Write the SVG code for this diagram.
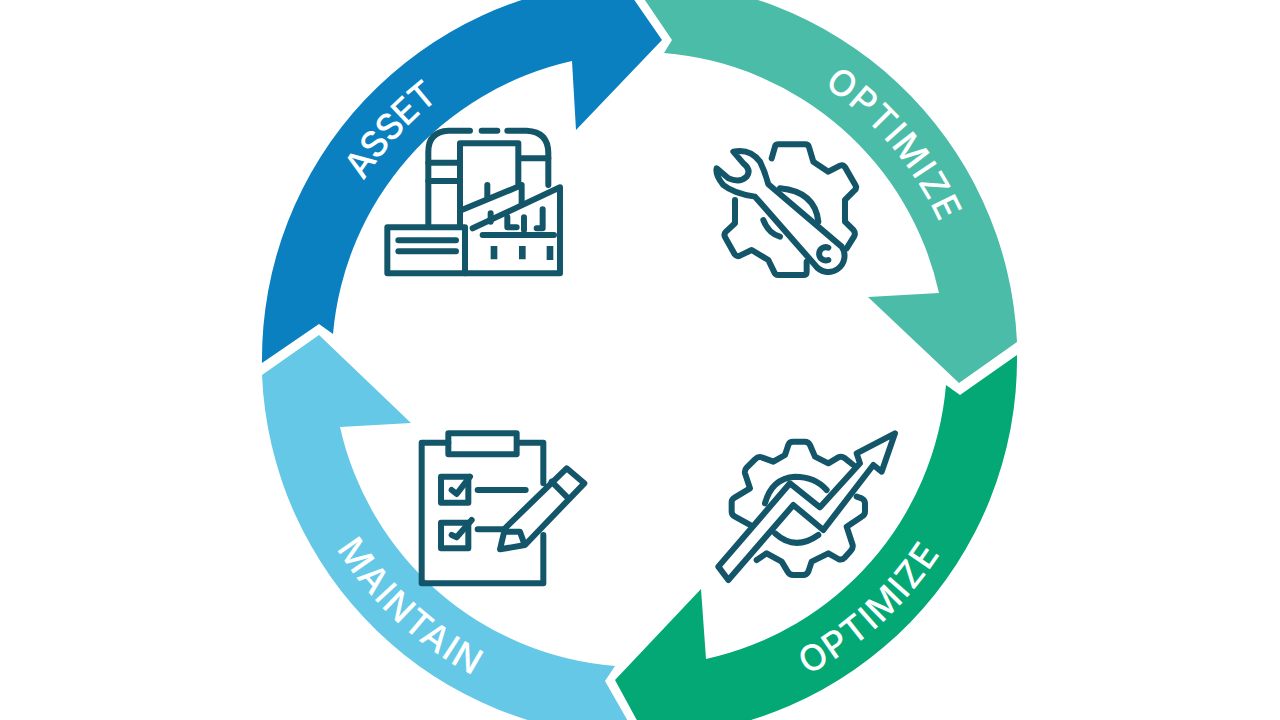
<svg xmlns="http://www.w3.org/2000/svg" width="1280" height="720" viewBox="0 0 1280 720">
<style>
.lab{font-family:Inter,"Liberation Sans",sans-serif;font-weight:500;font-size:36px;letter-spacing:1.500px;fill:#fff;text-anchor:middle}
.ic{fill:none;stroke:#13566a;stroke-width:18;stroke-linejoin:round;stroke-linecap:round}
</style>
<defs>
<path id="topArc" d="M311 359A329 329 0 0 1 969 359"/>
<path id="botArc" d="M282 359A358 358 0 0 0 998 359"/>
</defs>
<rect width="1280" height="720" fill="#fff"/>
<g id="connectors">
<path id="arrow-asset" fill="#0a80c1" d="M262 363A378 378 0 0 1 621.500 -18.500L662 40L576 130L572 61A307 307 0 0 0 333 334L319 324Z"/>
<path id="arrow-optimize-1" fill="#4bbca8" d="M632 -19A378 378 0 0 1 1017 342L959 383L868 297L939 293A307 307 0 0 0 664 53L672 40Z"/>
<path id="arrow-optimize-2" fill="#03a875" d="M1017 355A378 378 0 0 1 646 737L615 680L701 589L706 659A307 307 0 0 0 946 385L960 395Z"/>
<path id="arrow-maintain" fill="#64c8e6" d="M262 375L319 335L411 423L340 427A307 307 0 0 0 615 666L605 681L637 737A378 378 0 0 1 262 375Z"/>
</g>
<g id="label-asset"><text class="lab" style="letter-spacing:-1px" transform="rotate(-47.500 640 359)"><textPath href="#topArc" startOffset="50%">ASSET</textPath></text></g>
<g id="label-optimize-1"><text class="lab" transform="rotate(49.800 640 359)"><textPath href="#topArc" startOffset="50%">OPTIMIZE</textPath></text></g>
<g id="label-optimize-2"><text class="lab" transform="rotate(-42.600 640 359)"><textPath href="#botArc" startOffset="50%">OPTIMIZE</textPath></text></g>
<g id="label-maintain"><text class="lab" transform="rotate(42.800 640 359)"><textPath href="#botArc" startOffset="50%">MAINTAIN</textPath></text></g>
<g id="icon-asset" class="ic" transform="translate(370 110) scale(.3333)">
<path d="M52 352H285V490H52Z"/><path d="M285 490H570V232L308 355"/><path d="M85 391H258M85 424H258"/>
<path d="M175 350V125Q175 65 235 62H300M335 62H382M412 62H470Q535 65 535 130V225"/>
<path d="M175 158H265M450 145H535M175 213H265"/>
<path d="M270 350V100H445V225M455 225V280M275 300L440 232"/>
<path d="M352 225V265M362 310V335M412 320V352H440M462 322V360M518 298V355H500M338 375H552"/>
<path d="M372 408V448M457 408V448M540 408V450" stroke-width="20" stroke-linecap="butt"/>
</g>
<g id="icon-optimize-1" class="ic" transform="translate(700 125) scale(.3333)">
<path d="M215 100L226 62Q228 58 235 58H315Q325 58 327 66L340 110L385 140L420 122Q430 118 436 128L466 180Q472 190 462 198L435 225V290L460 315Q468 325 462 335L440 370M320 410V440Q320 450 310 450H235Q225 450 222 440L205 405L155 375L120 392Q110 396 104 388L76 338Q70 328 78 320L105 295V225"/>
<path d="M240 190Q345 200 355 290M190 285Q205 325 240 335"/>
<path d="M165 215Q100 205 70 180Q45 150 50 130L85 160Q120 175 140 155Q155 135 130 115L100 80Q150 70 180 110Q195 140 205 178L425 365A42 42 0 0 1 345 420Z"/>
<path d="M385 368A20 20 0 1 0 385 405"/>
</g>
<g id="icon-optimize-2" class="ic" transform="translate(700 420) scale(.3333)">
<path d="M55 440L85 480L280 255L370 330L520 135L545 155L585 40L470 100L480 130L360 262L270 190Z"/>
<path d="M195 250Q215 175 285 170Q345 170 380 210M225 340Q285 395 355 345"/>
<path d="M150 315L105 290Q95 285 95 275V245Q95 238 105 232L150 205L135 160Q133 150 140 143L165 118Q175 108 185 112L220 125L255 105L265 75Q268 65 280 65H315Q325 65 330 75L345 110L385 130L415 112Q425 108 435 115L460 135M470 230L485 235Q495 240 495 250V275Q495 285 485 290L440 320L458 375Q460 385 452 393L435 412Q425 422 415 417L385 400L335 425L325 455Q320 465 310 465H280Q268 465 263 455L245 425L200 400L170 420"/>
</g>
<g id="icon-maintain" class="ic" transform="translate(405 420) scale(.3333)">
<path d="M130 68H50V490H415V345M340 68H415V190"/><path d="M130 40H335V103H130Z"/>
<path d="M108 170H190V248H108ZM108 308H190V385H108Z"/>
<path d="M140 210L155 222L195 170M140 345L155 352L200 300M218 210H362M218 328H300"/>
<path d="M300 325L485 145L538 190L360 375L285 388Z"/><path d="M440 185L490 235M300 335H345L358 372"/>
</g>
</svg>
